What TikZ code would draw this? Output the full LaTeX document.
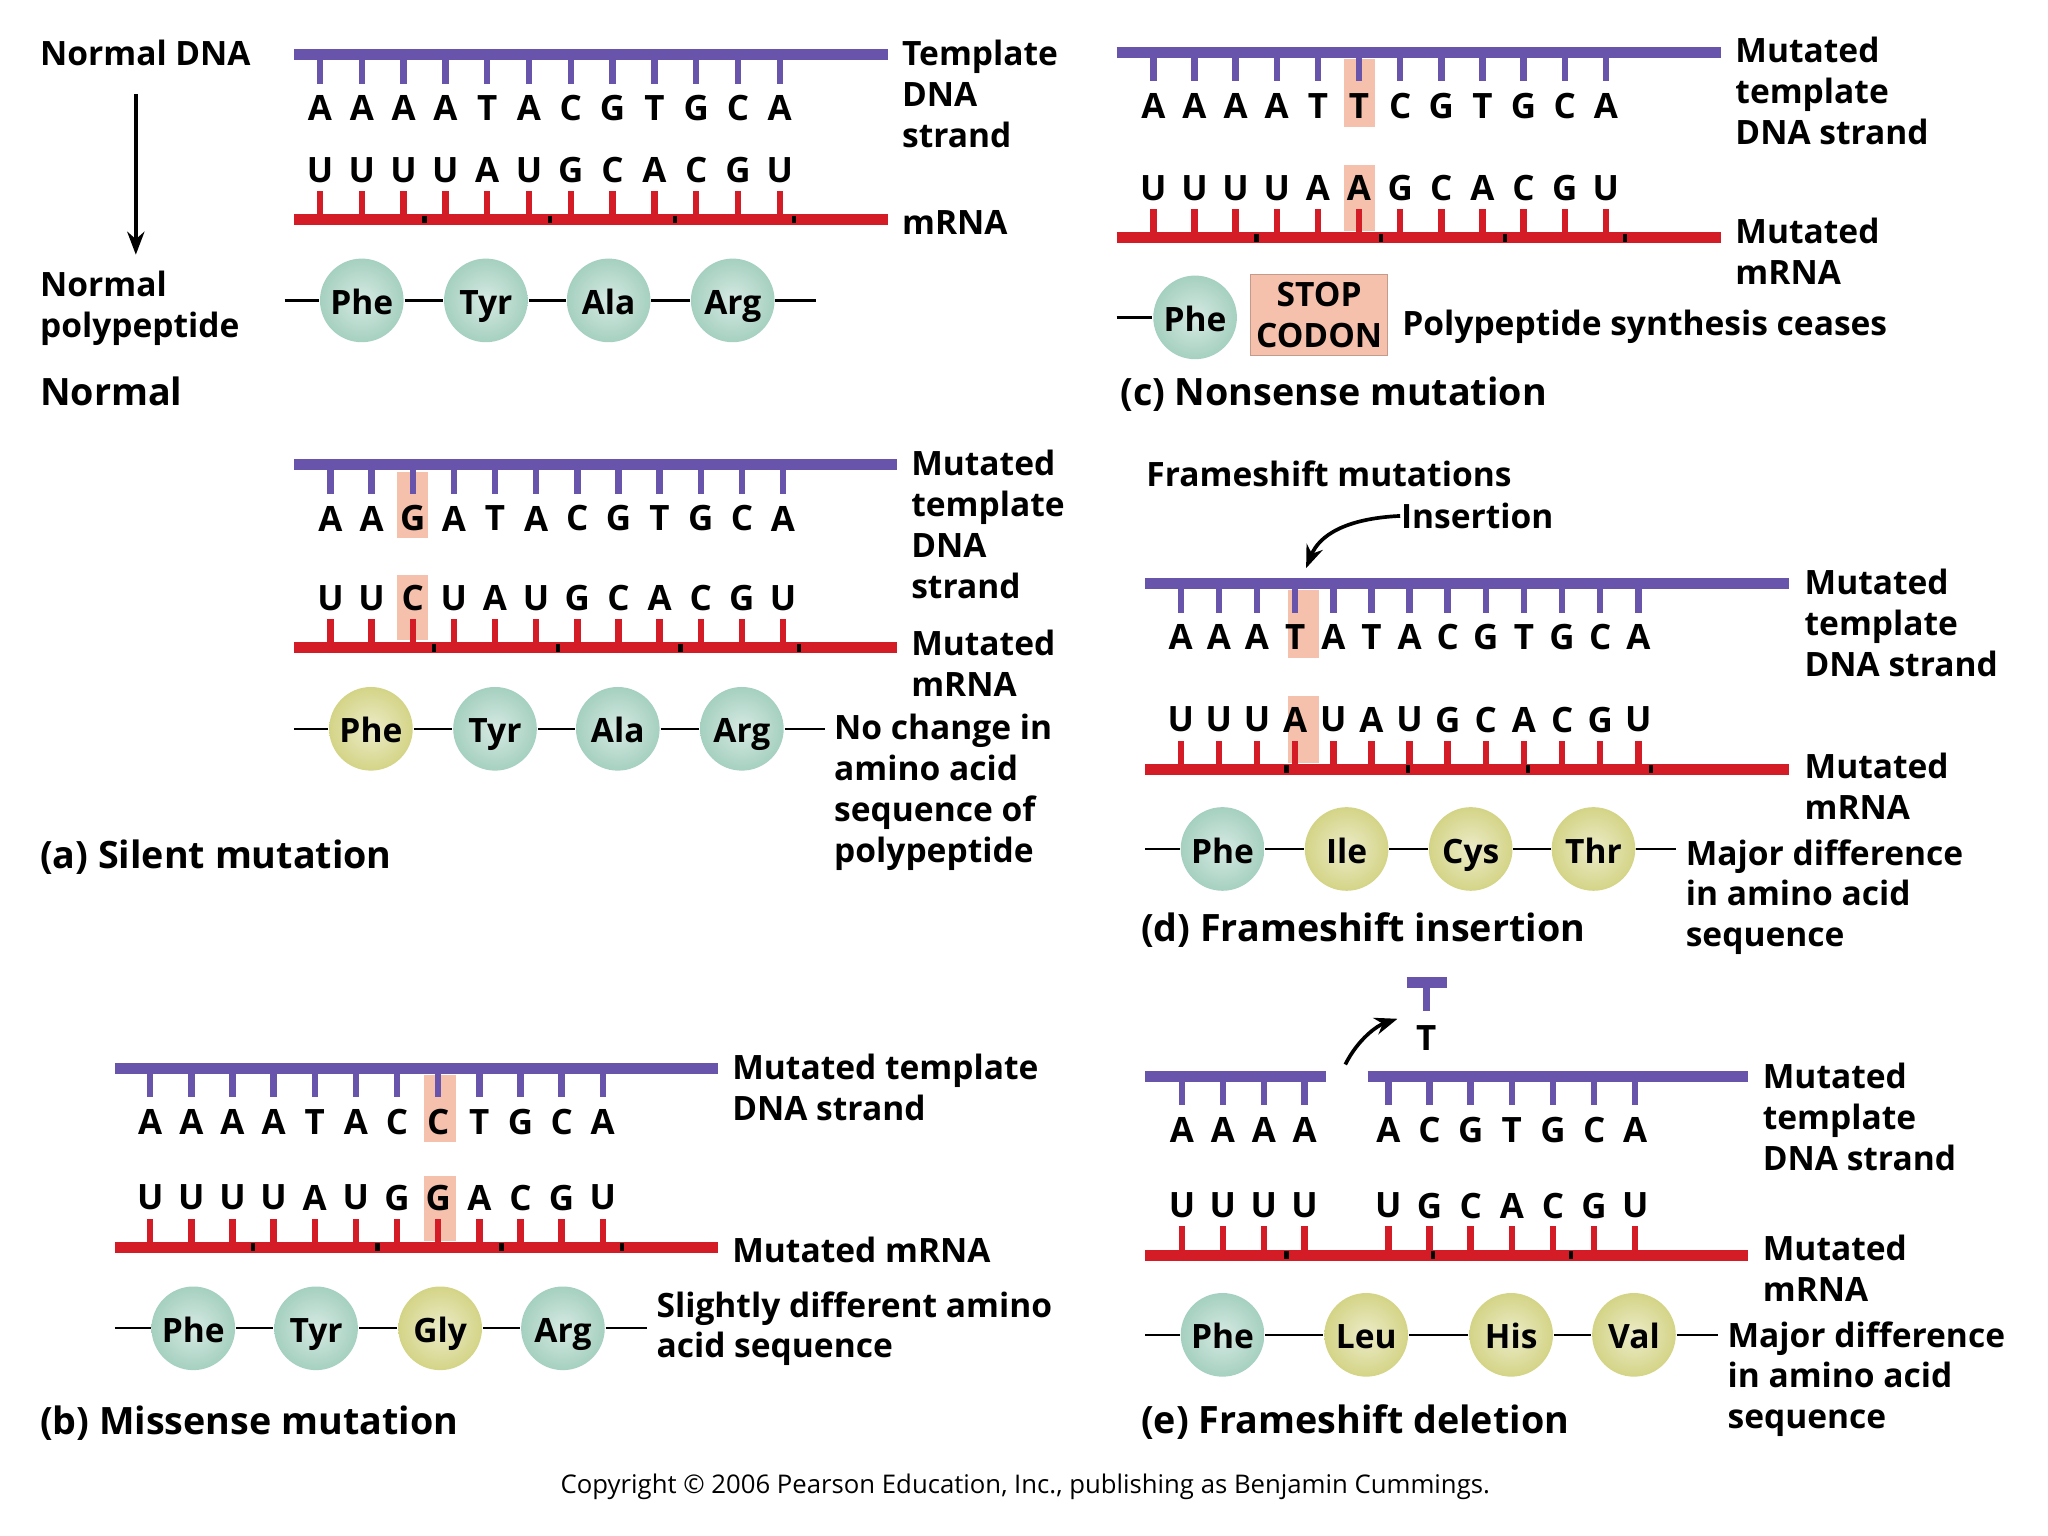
\documentclass[tikz,border=0pt]{standalone}
\usepackage{fontspec}
\setmainfont{Open Sans}
\usetikzlibrary{positioning,calc,arrows.meta}
\definecolor{dnablue}{RGB}{104,84,170}
\definecolor{rnared}{RGB}{212,28,38}
\definecolor{hlpink}{RGB}{245,192,172}
\definecolor{aateal}{RGB}{165,208,192}
\definecolor{aayel}{RGB}{212,212,135}

% template strand: y of bar, first letter x, step, letters
\newcommand\tmpl[4]{%
  \foreach \l [count=\i] in {#4} {
    \draw[tick=dnablue] ({#2+(\i-1)*#3},#1) -- ++(0,22);
    \node[base] (t#1-\i) at ({#2+(\i-1)*#3},#1+41) {\l};
  }}
% mRNA: y of bar, first letter x, step, letters, codon marks
\newcommand\mrna[5]{%
  \foreach \l [count=\i] in {#4} {
    \draw[tick=rnared] ({#2+(\i-1)*#3},#1) -- ++(0,-22);
    \node[base] (m#1-\i) at ({#2+(\i-1)*#3},#1-38) {\l};
  }
  \foreach \c in {#5} \draw[codon] (\c,#1-3) -- (\c,#1+3);}

\begin{document}
\begin{tikzpicture}[x=0.01cm,y=-0.01cm,
    font=\fontsize{7.3}{8.9}\selectfont\bfseries,
    bar/.style={line width=2.4pt, draw=#1},
    tick/.style={line width=1.4pt, draw=#1},
    codon/.style={line width=0.9pt, draw=black},
    base/.style={inner sep=0pt, font=\fontsize{7.6}{9}\selectfont\bfseries},
    hl/.style={fill=hlpink},
    aa/.style={circle, minimum size=0.64cm, inner sep=0pt, text height=1.5ex, text depth=0.35ex, shade, inner color=#1!45!white, outer color=#1},
    aa/.default={aateal},
    chain/.style={line width=0.5pt},
    lbl/.style={inner sep=0pt, align=left},
    ]
    \useasboundingbox (0,0) rectangle (1568,1176);

    %%% Normal %%%
    \node[lbl, anchor=north west] (ndna) at (30,30) {Normal DNA};
    \node[lbl, anchor=north west] (npoly) at (30,207) {Normal\\polypeptide};
    \coordinate (narrow) at (104,72);
    \draw[-{Stealth[length=5pt]}, line width=0.8pt] (narrow) -- (104,195);
    \node[lbl, anchor=north west, font=\fontsize{8.2}{9.5}\selectfont\bfseries] (normal) at (30,288) {Normal};
    \draw[bar=dnablue] (225,42) -- (680,42);
    \tmpl{42}{245}{32}{A,A,A,A,T,A,C,G,T,G,C,A}
    \draw[bar=rnared] (225,168) -- (680,168);
    \mrna{168}{245}{32}{U,U,U,U,A,U,G,C,A,C,G,U}{325,421,517,608}
    \node[lbl, anchor=north west] (ntl) at (690,30) {Template\\DNA\\strand};
    \node[lbl, anchor=west] (nml) at (690,170) {mRNA};
    \coordinate (n0) at (218,230); \coordinate (n5) at (625,230);
    \node[aa] (n1) at (277,230) {Phe};
    \node[aa] (n2) at (372,230) {Tyr};
    \node[aa] (n3) at (466,230) {Ala};
    \node[aa] (n4) at (561,230) {Arg};
    \draw[chain] (n0) -- (n1) -- (n2) -- (n3) -- (n4) -- (n5);

    %%% (a) silent %%%
    \fill[hl] (304,361) rectangle (328,412);
    \fill[hl] (304,440) rectangle (328,490);
    \draw[bar=dnablue] (225,356) -- (687,356);
    \tmpl{356}{253}{31.5}{A,A,G,A,T,A,C,G,T,G,C,A}
    \draw[bar=rnared] (225,496) -- (687,496);
    \mrna{496}{253}{31.5}{U,U,C,U,A,U,G,C,A,C,G,U}{332,427,521,612}
    \node[lbl, anchor=north west] (atl) at (697,344) {Mutated\\template\\DNA\\strand};
    \node[lbl, anchor=north west] (aml) at (697,482) {Mutated\\mRNA};
    \coordinate (a0) at (225,558); \coordinate (a5) at (632,558);
    \node[aa=aayel] (a1) at (284,558) {Phe};
    \node[aa] (a2) at (379,558) {Tyr};
    \node[aa] (a3) at (473,558) {Ala};
    \node[aa] (a4) at (568,558) {Arg};
    \draw[chain] (a0) -- (a1) -- (a2) -- (a3) -- (a4) -- (a5);
    \node[lbl, anchor=north west] (anote) at (638,546) {No change in\\amino acid\\sequence of\\polypeptide};
    \node[lbl, anchor=north west, font=\fontsize{8.2}{9.5}\selectfont\bfseries] (atitle) at (30,642) {(a) Silent mutation};

    %%% (b) missense %%%
    \fill[hl] (325,823) rectangle (349,874);
    \fill[hl] (325,900) rectangle (349,950);
    \draw[bar=dnablue] (88,818) -- (550,818);
    \tmpl{818}{115}{31.5}{A,A,A,A,T,A,C,C,T,G,C,A}
    \draw[bar=rnared] (88,955) -- (550,955);
    \mrna{955}{115}{31.5}{U,U,U,U,A,U,G,G,A,C,G,U}{194,289,384,476}
    \node[lbl, anchor=north west] (btl) at (560,806) {Mutated template\\DNA strand};
    \node[lbl, anchor=west] (bml) at (560,957) {Mutated mRNA};
    \coordinate (b0) at (88,1017); \coordinate (b5) at (495,1017);
    \node[aa] (b1) at (148,1017) {Phe};
    \node[aa] (b2) at (242,1017) {Tyr};
    \node[aa=aayel] (b3) at (337,1017) {Gly};
    \node[aa] (b4) at (431,1017) {Arg};
    \draw[chain] (b0) -- (b1) -- (b2) -- (b3) -- (b4) -- (b5);
    \node[lbl, anchor=north west] (bnote) at (502,988) {Slightly different amino\\acid sequence};
    \node[lbl, anchor=north west, font=\fontsize{8.2}{9.5}\selectfont\bfseries] (btitle) at (30,1076) {(b) Missense mutation};

    %%% (c) nonsense %%%
    \fill[hl] (1029,45) rectangle (1053,97);
    \fill[hl] (1029,126) rectangle (1053,177);
    \draw[bar=dnablue] (855,40) -- (1318,40);
    \tmpl{40}{883}{31.5}{A,A,A,A,T,T,C,G,T,G,C,A}
    \draw[bar=rnared] (855,182) -- (1318,182);
    \mrna{182}{883}{31.5}{U,U,U,U,A,A,G,C,A,C,G,U}{962,1057,1152,1244}
    \node[lbl, anchor=north west] (ctl) at (1328,28) {Mutated\\template\\DNA strand};
    \node[lbl, anchor=north west] (cml) at (1328,166) {Mutated\\mRNA};
    \coordinate (c0) at (855,243);
    \node[aa] (c1) at (915,243) {Phe};
    \node[fill=hlpink, draw=hlpink!80!black, line width=0.3pt, minimum width=1.05cm, minimum height=0.62cm, inner sep=1pt, align=center] (stop) at (1010,241) {STOP\\CODON};
    \draw[chain] (c0) -- (c1);
    \node[lbl, anchor=west] (cnote) at (1073,250) {Polypeptide synthesis ceases};
    \node[lbl, anchor=north west, font=\fontsize{8.2}{9.5}\selectfont\bfseries] (ctitle) at (857,288) {(c) Nonsense mutation};

    %%% (d) frameshift insertion %%%
    \node[lbl, anchor=west] (fsm) at (877,363) {Frameshift mutations};
    \node[lbl, anchor=west] (ins) at (1072,395) {Insertion};
    \coordinate (dins) at (1000,435);
    \draw[-{Stealth[length=5pt]}, line width=0.8pt] (ins.west) .. controls (1030,397) and (1010,410) .. (dins);
    \fill[hl] (986,452) rectangle (1010,504);
    \fill[hl] (986,533) rectangle (1010,584);
    \draw[bar=dnablue] (877,447) -- (1370,447);
    \tmpl{447}{904}{29.2}{A,A,A,T,A,T,A,C,G,T,G,C,A}
    \draw[bar=rnared] (877,589) -- (1370,589);
    \mrna{589}{904}{29.2}{U,U,U,A,U,A,U,G,C,A,C,G,U}{985,1078,1170,1264}
    \node[lbl, anchor=north west] (dtl) at (1381,435) {Mutated\\template\\DNA strand};
    \node[lbl, anchor=north west] (dml) at (1381,576) {Mutated\\mRNA};
    \coordinate (d0) at (877,650); \coordinate (d5) at (1283,650);
    \node[aa] (d1) at (936,650) {Phe};
    \node[aa=aayel] (d2) at (1031,650) {Ile};
    \node[aa=aayel] (d3) at (1126,650) {Cys};
    \node[aa=aayel] (d4) at (1220,650) {Thr};
    \draw[chain] (d0) -- (d1) -- (d2) -- (d3) -- (d4) -- (d5);
    \node[lbl, anchor=north west] (dnote) at (1290,642) {Major difference\\in amino acid\\sequence};
    \node[lbl, anchor=north west, font=\fontsize{8.2}{9.5}\selectfont\bfseries] (dtitle) at (873,698) {(d) Frameshift insertion};

    %%% (e) frameshift deletion %%%
    \draw[bar=dnablue] (1077,752) -- (1108,752);
    \draw[tick=dnablue] (1092,752) -- (1092,774);
    \node[base] (tdel) at (1092,795) {T};
    \coordinate (eout) at (1030,815);
    \draw[-{Stealth[length=5pt]}, line width=0.8pt] (eout) .. controls (1040,795) and (1055,785) .. (1070,780);
    \draw[bar=dnablue] (877,824) -- (1015,824);
    \draw[bar=dnablue] (1047,824) -- (1338,824);
    \tmpl{824}{905}{31.3}{A,A,A,A}
    \foreach \l [count=\i] in {A,C,G,T,G,C,A} {
      \draw[tick=dnablue] ({1063+(\i-1)*31.5},824) -- ++(0,22);
      \node[base] (te-\i) at ({1063+(\i-1)*31.5},865) {\l};
    }
    \draw[bar=rnared] (877,961) -- (1338,961);
    \mrna{961}{905}{31.3}{U,U,U,U}{985}
    \foreach \l [count=\i] in {U,G,C,A,C,G,U} {
      \draw[tick=rnared] ({1063+(\i-1)*31.5},961) -- ++(0,-22);
      \node[base] (me-\i) at ({1063+(\i-1)*31.5},923) {\l};
    }
    \foreach \c in {1097,1203} \draw[codon] (\c,958) -- (\c,964);
    \node[lbl, anchor=north west] (etl) at (1349,813) {Mutated\\template\\DNA strand};
    \node[lbl, anchor=north west] (eml) at (1349,945) {Mutated\\mRNA};
    \coordinate (e0) at (877,1022); \coordinate (e5) at (1315,1022);
    \node[aa] (e1) at (936,1022) {Phe};
    \node[aa=aayel] (e2) at (1046,1022) {Leu};
    \node[aa=aayel] (e3) at (1157,1022) {His};
    \node[aa=aayel] (e4) at (1251,1022) {Val};
    \draw[chain] (e0) -- (e1) -- (e2) -- (e3) -- (e4) -- (e5);
    \node[lbl, anchor=north west] (enote) at (1322,1011) {Major difference\\in amino acid\\sequence};
    \node[lbl, anchor=north west, font=\fontsize{8.2}{9.5}\selectfont\bfseries] (etitle) at (873,1075) {(e) Frameshift deletion};

    \node[font=\fontsize{5.6}{6.5}\selectfont] (copy) at (785,1138) {Copyright © 2006 Pearson Education, Inc., publishing as Benjamin Cummings.};
\end{tikzpicture}
\end{document}
